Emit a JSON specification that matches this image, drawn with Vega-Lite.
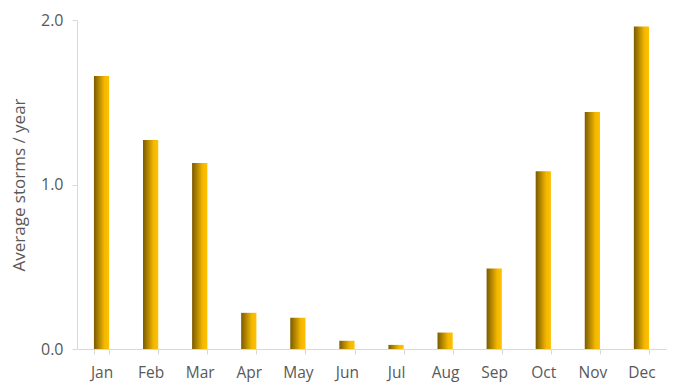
{
  "$schema": "https://vega.github.io/schema/vega-lite/v6.json",
  "autosize": "none",
  "width": 589,
  "height": 329,
  "padding": {"left": 77, "top": 20, "right": 21, "bottom": 39},
  "background": "white",
  "config": {"view": {"stroke": null}, "font": "Open Sans"},
  "data": {"values": [
    {"month": "Jan", "storms": 1.66},
    {"month": "Feb", "storms": 1.27},
    {"month": "Mar", "storms": 1.13},
    {"month": "Apr", "storms": 0.22},
    {"month": "May", "storms": 0.19},
    {"month": "Jun", "storms": 0.05},
    {"month": "Jul", "storms": 0.025},
    {"month": "Aug", "storms": 0.10},
    {"month": "Sep", "storms": 0.49},
    {"month": "Oct", "storms": 1.08},
    {"month": "Nov", "storms": 1.44},
    {"month": "Dec", "storms": 1.96}
  ]},
  "mark": {
    "type": "bar",
    "color": {
      "gradient": "linear", "x1": 0, "x2": 1, "y1": 0, "y2": 0,
      "stops": [
        {"offset": 0, "color": "#7a5a00"},
        {"offset": 0.35, "color": "#b88a00"},
        {"offset": 0.7, "color": "#f5b800"},
        {"offset": 1, "color": "#ffc000"}
      ]
    }
  },
  "encoding": {
    "x": {
      "field": "month", "type": "nominal", "sort": null,
      "scale": {"paddingInner": 0.69, "paddingOuter": 0.345},
      "axis": {
        "title": null, "labelAngle": 0, "tickBand": "extent",
        "domainColor": "#d9d9d9", "tickColor": "#d9d9d9", "tickSize": 5,
        "labelColor": "#595959", "labelFontSize": 15.5, "labelPadding": 11
      }
    },
    "y": {
      "field": "storms", "type": "quantitative",
      "scale": {"domain": [0, 2], "nice": false},
      "axis": {
        "title": "Average storms / year", "values": [0, 1, 2], "format": ".1f",
        "grid": false, "domainColor": "#d9d9d9", "tickColor": "#d9d9d9", "tickSize": 5,
        "labelColor": "#595959", "labelFontSize": 16, "labelPadding": 9,
        "titleColor": "#595959", "titleFontSize": 17, "titleFontWeight": "normal", "titlePadding": 12
      }
    }
  }
}
